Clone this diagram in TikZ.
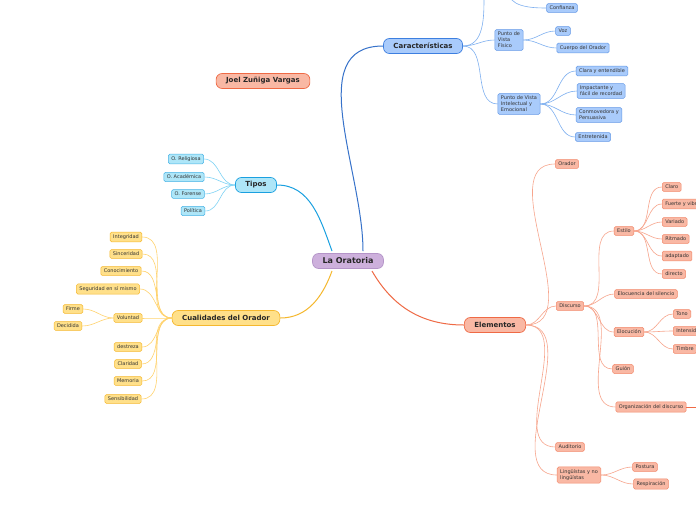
\documentclass[tikz,border=0pt]{standalone}
\usepackage{fontspec}
\setmainfont{DejaVu Sans}
\definecolor{bF}{HTML}{A9CBFB}\definecolor{bD}{HTML}{3D7FE0}\definecolor{bL}{HTML}{7FB0F0}
\definecolor{cF}{HTML}{AEE6F8}\definecolor{cD}{HTML}{1AA0E0}\definecolor{cL}{HTML}{7FD3F5}
\definecolor{yF}{HTML}{FFE08A}\definecolor{yD}{HTML}{F5B82E}\definecolor{yL}{HTML}{FFD36E}
\definecolor{sF}{HTML}{F9B8A4}\definecolor{sD}{HTML}{EF6A45}\definecolor{sL}{HTML}{F7A58D}
\definecolor{pF}{HTML}{CDB0DC}\definecolor{pD}{HTML}{B494C8}
\begin{document}
\begin{tikzpicture}[x=1pt,y=-1pt,
 sm/.style={draw,rounded corners=1.5pt,line width=0.5pt,font=\fontsize{5}{6}\selectfont,inner xsep=3pt,inner ysep=2.5pt,align=left,text=black!80},
 bb/.style={sm,fill=bF,draw=bD!80},
 cc/.style={sm,fill=cF,draw=cD!80},
 yy/.style={sm,fill=yF,draw=yD},
 ss/.style={sm,fill=sF,draw=sD!80},
 big/.style={draw,rounded corners=6pt,line width=0.7pt,font=\fontsize{7}{8}\selectfont\bfseries,minimum height=15pt,inner xsep=10pt,text=black!85},
 R/.style={out=0,in=180},L/.style={out=180,in=0},
 bl/.style={draw=bL,line width=0.6pt},cl/.style={draw=cL,line width=0.6pt},
 yl/.style={draw=yL,line width=0.6pt},sl/.style={draw=sL,line width=0.6pt}]
\useasboundingbox (0,0) rectangle (696,520);
\clip (0,0) rectangle (696,520);
\fill[white] (0,0) rectangle (696,520);
% main nodes
\node[big,fill=sF,draw=sD] (joel) at (263,81) {Joel Zuñiga Vargas};
\node[big,fill=pF,draw=pD,font=\fontsize{8}{9}\selectfont\bfseries] (ora) at (348,261) {La Oratoria};
\node[big,fill=bF,draw=bD] (car) at (423,46) {Características};
\node[big,fill=cF,draw=cD] (tip) at (256,185) {Tipos};
\node[big,fill=yF,draw=yD] (cua) at (226,318) {Cualidades del Orador};
\node[big,fill=sF,draw=sD] (ele) at (495,325) {Elementos};
\draw[draw=bD!90!black,line width=1pt] (363,251) to[out=90,in=180] (car.west);
\draw[draw=cD,line width=1pt] (332,251) to[out=110,in=0] (tip.east);
\draw[draw=yD,line width=1pt] (332,271) to[out=250,in=0] (cua.east);
\draw[draw=sD,line width=1pt] (372,271) to[out=-60,in=180] (ele.west);
% caracteristicas
\node[bb] (conf) at (562,8) {Confianza};
\node[bb] (pvf) at (509,40) {Punto de\\Vista\\Físico};
\node[bb] (voz) at (563,31) {Voz};
\node[bb] (cue) at (583,48) {Cuerpo del Orador};
\node[bb] (pvi) at (519,104) {Punto de Vista\\Intelectual y\\Emocional};
\node[bb] (cla) at (602,71) {Clara y entendible};
\node[bb] (imp) at (601,91) {Impactante y\\fácil de recordad};
\node[bb] (con) at (599,115) {Conmovedora y\\Persuasiva};
\node[bb] (ent) at (593,137) {Entretenida};
\coordinate (top) at (484,-5);
\draw[bl] (car.east) to[out=0,in=270] (top);
\draw[bl] (top) ++(0,-10) coordinate (t2);
\draw[bl] (car.east) to[R] (pvf.west);
\draw[bl] (car.east) to[out=0,in=180] (pvi.west);
\draw[bl] (508,-10) to[out=270,in=180] (conf.west);
\foreach \c in {voz,cue} \draw[bl] (pvf.east) to[R] (\c.west);
\foreach \c in {cla,imp,con,ent} \draw[bl] (pvi.east) to[R] (\c.west);
% tipos
\node[cc] (rel) at (186,159) {O. Religiosa};
\node[cc] (aca) at (184,177) {O. Académica};
\node[cc] (for) at (188,194) {O. Forense};
\node[cc] (pol) at (193,211) {Política};
\foreach \c in {rel,aca,for,pol} \draw[cl] (tip.west) to[L] (\c.east);
% cualidades
\node[yy] (int) at (126,237) {Integridad};
\node[yy] (sin) at (126,254) {Sinceridad};
\node[yy] (cono) at (121,271) {Conocimiento};
\node[yy] (seg) at (108,289) {Seguridad en sí mismo};
\node[yy] (vol) at (128,318) {Voluntad};
\node[yy] (fir) at (73,309) {Firme};
\node[yy] (dec) at (68,326) {Decidida};
\node[yy] (des) at (128,347) {destreza};
\node[yy] (clar) at (128,364) {Claridad};
\node[yy] (mem) at (128,381) {Memoria};
\node[yy] (sen) at (123,399) {Sensibilidad};
\foreach \c in {int,sin,cono,seg,vol,des,clar,mem,sen} \draw[yl] (cua.west) to[L] (\c.east);
\foreach \c in {fir,dec} \draw[yl] (vol.west) to[L] (\c.east);
% elementos
\node[ss] (orad) at (567,164) {Orador};
\node[ss] (dis) at (570,306) {Discurso};
\node[ss] (est) at (624,231) {Estilo};
\node[ss,anchor=west] (clo) at (662,187) {Claro};
\node[ss,anchor=west] (fue) at (662,204) {Fuerte y vibrante};
\node[ss,anchor=west] (var) at (662,222) {Variado};
\node[ss,anchor=west] (rit) at (662,239) {Ritmado};
\node[ss,anchor=west] (ada) at (662,256) {adaptado};
\node[ss,anchor=west] (dir) at (662,274) {directo};
\node[ss] (elo) at (646,294) {Elocuencia del silencio};
\node[ss] (eloc) at (629,332) {Elocución};
\node[ss,anchor=west] (ton) at (673,314) {Tono};
\node[ss,anchor=west] (inte) at (673,331) {Intensidad};
\node[ss,anchor=west] (tim) at (673,349) {Timbre};
\node[ss] (gui) at (623,369) {Guión};
\node[ss] (org) at (651,407) {Organización del discurso};
\coordinate (orgx) at (700,407);
\node[ss] (aud) at (570,447) {Auditorio};
\node[ss] (lin) at (579,475) {Lingüístas y no\\lingüístas};
\node[ss] (pos) at (645,467) {Postura};
\node[ss] (res) at (651,484) {Respiración};
\foreach \c in {orad,dis,aud,lin} \draw[sl] (ele.east) to[R] (\c.west);
\foreach \c in {est,elo,eloc,gui,org} \draw[sl] (dis.east) to[R] (\c.west);
\foreach \c in {clo,fue,var,rit,ada,dir} \draw[sl] (est.east) to[R] (\c.west);
\foreach \c in {ton,inte,tim} \draw[sl] (eloc.east) to[R] (\c.west);
\draw[draw=sD,line width=0.8pt] (org.east) -- (orgx);
\foreach \c in {pos,res} \draw[sl] (lin.east) to[R] (\c.west);
\end{tikzpicture}
\end{document}
